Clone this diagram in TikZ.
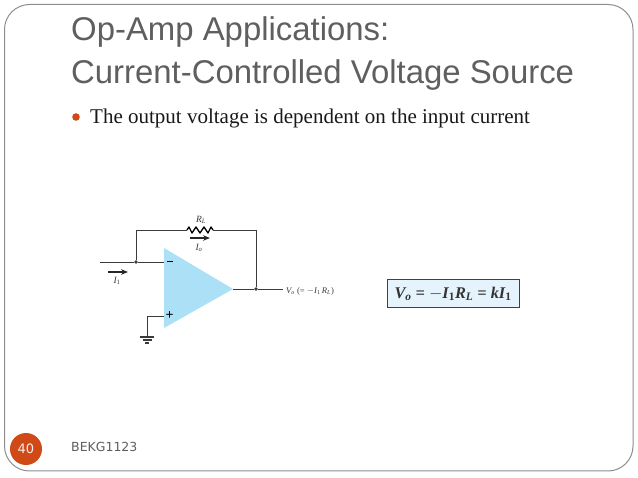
\documentclass[tikz,border=0pt]{standalone}
\usepackage{fontspec}
\usepackage{amsmath}
\setmainfont{Liberation Serif}
\newfontfamily\titlefont{Liberation Sans}
\newfontfamily\footfont{DejaVu Sans}
\definecolor{framegray}{HTML}{8E8E8E}
\definecolor{titlegray}{HTML}{5F5F5F}
\definecolor{accent}{HTML}{D04A17}
\definecolor{opblue}{HTML}{ABE0F6}
\definecolor{boxblue}{HTML}{E4F3FC}
\definecolor{wire}{HTML}{3A3A3A}
\tikzset{
  wireline/.style={draw=wire,line width=0.8pt},
  dotnode/.style={circle,fill=wire,inner sep=0pt,minimum size=3.8pt},
  lab/.style={inner sep=0pt,text=wire,font=\fontsize{9.5}{10}\selectfont\itshape},
  flow/.style={draw=black!85,line width=1.2pt,-{Stealth[length=7pt,width=5.5pt]}},
  titleline/.style={anchor=base west,inner sep=0pt,text=titlegray,font=\titlefont\fontsize{32.9}{36}\selectfont}
}
\usetikzlibrary{arrows.meta,decorations.pathmorphing}
\begin{document}
\begin{tikzpicture}[x=1pt,y=-1pt]
\useasboundingbox (0,0) rectangle (638,478);
\fill[white] (0,0) rectangle (638,478);
\draw[framegray,line width=1pt,rounded corners=25pt] (4.5,4.5) rectangle (633,471);
% title
\node[titleline] (t1) at (71,41) {Op-Amp Applications:};
\node[titleline] (t2) at (71,84) {Current-Controlled Voltage Source};
% bullet
\fill[accent] (76,117) circle (3.8);
\node[anchor=base west,inner sep=0pt,text=black!90,font=\fontsize{21}{24}\selectfont] (body) at (90,124) {The output voltage is dependent on the input current};
% op amp
\fill[opblue] (164,248) -- (164,328) -- (233,289) -- cycle;
\coordinate (opminus) at (164,262);
\coordinate (opplus) at (164,316);
\coordinate (opout) at (233,289);
\coordinate (instart) at (100,262);
\coordinate (outend) at (283,289);
\coordinate (rl) at (187,230);
\coordinate (rr) at (213,230);
\coordinate (gnd) at (147,336);
\node[dotnode] (j1) at (136,262) {};
\node[dotnode] (j2) at (256,289) {};
\draw[wireline] (instart) -- (j1) -- (opminus);
\draw[wireline] (j1) |- (rl);
\draw[wireline] (rr) -| (j2);
\draw[wireline] (opout) -- (j2) -- (outend);
\draw[wireline] (opplus) -| (gnd);
\draw[black,line width=1.3pt,line join=round] (rl) -- (189,227) -- (192,233) -- (196,227) -- (200,233) -- (204,227) -- (208,233) -- (211,227) -- (rr);
\node[inner sep=0pt,text=black] (mn) at (170,261.5) {\rule{6pt}{1.2pt}};
\node[font=\bfseries\fontsize{14}{14}\selectfont,inner sep=0pt,text=black] (pl) at (169.5,316) {+};
% ground
\draw[wire,line width=1.1pt] (140,337) -- (154,337) (142.5,340) -- (151.5,340) (145,343) -- (149,343);
% current arrows
\coordinate (a1) at (108,272);
\coordinate (a2) at (128,272);
\coordinate (b1) at (190,238);
\coordinate (b2) at (210,238);
\draw[flow] (a1) -- (a2);
\draw[flow] (b1) -- (b2);
% labels
\node[lab] (li) at (117,281) {I\textsubscript{\upshape 1}};
\node[lab] (lo) at (199,248) {I\textsubscript{o}};
\node[lab] (lr) at (201,220) {R\textsubscript{L}};
\node[lab,anchor=west,font=\fontsize{8.6}{10}\selectfont\itshape] (lv) at (286,291) {V\textsubscript{o}\ \upshape(=\ $-$\itshape I\textsubscript{\upshape 1}\,R\textsubscript{L}\upshape)};
% equation box
\node[draw=black!75,fill=boxblue,line width=1pt,minimum width=132pt,minimum height=28pt,inner sep=0pt,font=\bfseries\itshape\fontsize{16.3}{18}\selectfont,text=black!80] (eq) at (453,294)
 {V\textsubscript{o} = $-$I\textsubscript{\upshape 1}R\textsubscript{L} = kI\textsubscript{\upshape 1}};
% footer
\node[circle,fill=accent,minimum size=32pt,inner sep=0pt,text=white!90!accent,font=\footfont\fontsize{13}{13}\selectfont] (num) at (26,449) {40};
\node[anchor=base west,inner sep=0pt,text=titlegray,font=\footfont\fontsize{12.5}{13}\selectfont] (foot) at (71,452) {BEKG1123};
\end{tikzpicture}
\end{document}
